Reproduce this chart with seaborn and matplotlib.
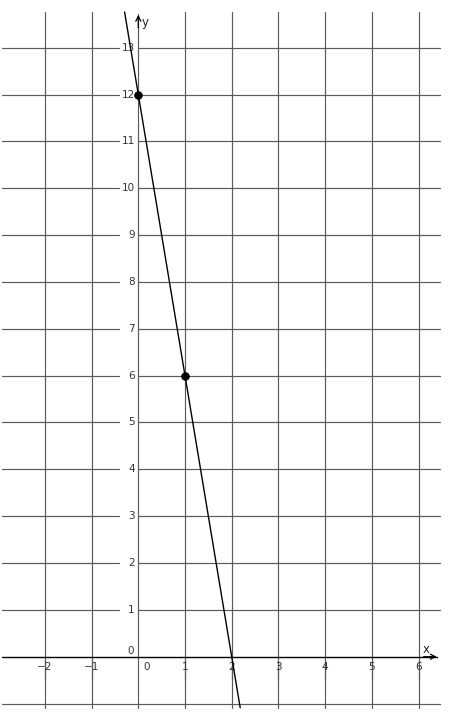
import numpy as np
import matplotlib
matplotlib.use("Agg")
import matplotlib.pyplot as plt
import seaborn as sns

# data
point_x = [0, 1]
point_y = [12, 6]
x_ticks = [-2, -1, 0, 1, 2, 3, 4, 5, 6]
y_ticks = [-1, 0, 1, 2, 3, 4, 5, 6, 7, 8, 9, 10, 11, 12, 13]
x_tick_labels = ['\u22122', '\u22121', '0', '1', '2', '3', '4', '5', '6']
y_tick_labels = ['', '0', '1', '2', '3', '4', '5', '6', '7', '8', '9', '10', '11', '12', '13']

sns.set_style("white")
plt.rcParams['font.family'] = ['DejaVu Sans']

# visible window of the grid
xmin, xmax = -2.92, 6.45
ymin, ymax = -1.09, 13.76

fig = plt.figure(figsize=(4.66, 7.24), dpi=100)
ax = fig.add_axes([0, 0, 1, 1])

grid_col = '#5a5a5a'
gw = 0.85
# horizontal grid lines, with a gap where the y labels sit
for y, lab in zip(y_ticks, y_tick_labels):
    if y == 0:
        continue
    if lab:
        ax.plot([xmin, -0.41], [y, y], color=grid_col, lw=gw, zorder=1)
        ax.plot([0, xmax], [y, y], color=grid_col, lw=gw, zorder=1)
    else:
        ax.plot([xmin, xmax], [y, y], color=grid_col, lw=gw, zorder=1)
# vertical grid lines, with a gap where the x labels sit
for x in x_ticks:
    if x == 0:
        continue
    ax.plot([x, x], [ymin, -0.07], color=grid_col, lw=gw, zorder=1)
    ax.plot([x, x], [-0.49, ymax], color=grid_col, lw=gw, zorder=1)

# axes
ax.plot([0, 0], [ymin, ymax - 0.05], color=grid_col, lw=gw, zorder=2)
ax.annotate('', xy=(0, ymax), xytext=(0, ymax - 0.4),
            arrowprops=dict(arrowstyle='->', color='black', lw=0.9, mutation_scale=9))
ax.plot([xmin, xmax - 0.05], [0, 0], color='black', lw=1.0, zorder=2)
ax.annotate('', xy=(xmax, 0), xytext=(xmax - 0.4, 0),
            arrowprops=dict(arrowstyle='->', color='black', lw=0.9, mutation_scale=9))
ax.text(0.15, ymax - 0.23, 'y', fontsize=8.5, color='#222222', ha='center', va='center')
ax.text(xmax - 0.28, 0.15, 'x', fontsize=8.5, color='#222222', ha='center', va='center')

# tick labels
lab_col = '#333333'
for y, lab in zip(y_ticks, y_tick_labels):
    if not lab:
        continue
    if y == 0:
        ax.text(-0.17, 0.12, lab, fontsize=7.5, color=lab_col, ha='center', va='center')
    else:
        ax.text(-0.08, y, lab, fontsize=7.5, color=lab_col, ha='right', va='center')
for x, lab in zip(x_ticks, x_tick_labels):
    if x == 0:
        ax.text(0.17, -0.22, lab, fontsize=7.5, color=lab_col, ha='center', va='center')
    else:
        ax.text(x, -0.22, lab, fontsize=7.5, color=lab_col, ha='center', va='center')

# the line through the two points, clipped to the grid window
slope = (point_y[1] - point_y[0]) / (point_x[1] - point_x[0])
inter = point_y[0] - slope * point_x[0]
line_x = [(ymax - inter) / slope, (ymin - inter) / slope]
line_y = [ymax, ymin]
sns.lineplot(x=line_x, y=line_y, color='black', lw=1.0, ax=ax, zorder=3)
sns.scatterplot(x=point_x, y=point_y, color='black', s=32, ax=ax, zorder=4, edgecolor='black')

ax.set_xlim(-138.3 / 46.7, (466 - 138.3) / 46.7)
ax.set_ylim(-(724 - 656.7) / 46.85, 656.7 / 46.85)
ax.axis('off')
fig.savefig('out.png', dpi=100)
